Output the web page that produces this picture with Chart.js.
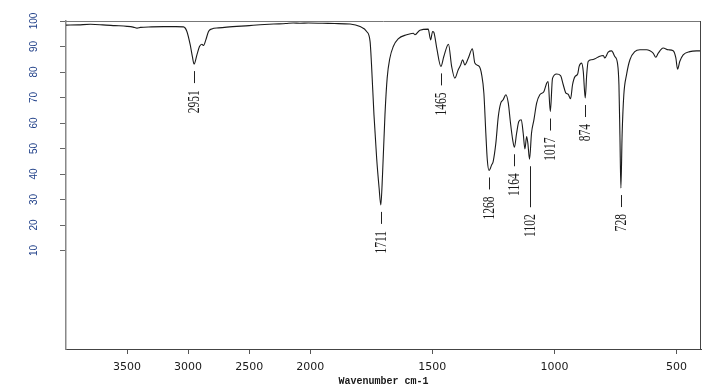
<!DOCTYPE html>
<html>
<head>
<meta charset="utf-8">
<script src="https://cdn.jsdelivr.net/npm/chart.js@4.4.1/dist/chart.umd.min.js"></script>
<style>
  html, body { margin: 0; padding: 0; background: #ffffff; }
  #c { display: block; }
</style>
</head>
<body>
<canvas id="c" width="723" height="391"></canvas>
<script>
// ---- data (wavenumber cm-1, transmittance %) ----
const wavenumbers = [
  4000, 3900, 3800, 3700, 3600, 3500, 3450, 3418, 3390, 3300, 3200, 3100, 3038, 3010, 2983, 2965,
  2951, 2928, 2907, 2887, 2874, 2855, 2833, 2806, 2750, 2683, 2500, 2411, 2300, 2200, 2139, 2084,
  2016, 1950, 1900, 1837, 1796, 1769, 1755, 1749, 1739, 1728, 1718, 1711, 1704, 1694, 1685, 1674,
  1660, 1640, 1605, 1578, 1571, 1551, 1517, 1507, 1499, 1494, 1482, 1465, 1453, 1434, 1421, 1408,
  1394, 1384, 1376, 1367, 1353, 1336, 1326, 1308, 1298, 1289, 1281, 1275, 1268, 1257, 1251, 1240,
  1230, 1220, 1210, 1199, 1189, 1180, 1171, 1164, 1155, 1146, 1136, 1128, 1121, 1114, 1109, 1102,
  1094, 1084, 1073, 1060, 1043, 1032, 1026, 1017, 1008, 991, 975, 964, 953, 944, 934, 926,
  916, 905, 899, 889, 882, 874, 868, 862, 848, 834, 817, 800, 794, 780, 766, 753,
  742, 736, 732, 728, 723, 716, 705, 691, 671, 650, 623, 609, 596, 585, 575, 555,
  534, 514, 503, 496, 487, 473, 446, 418, 400
];
const transmittance = [
  98.4, 98.5, 98.7, 98.5, 98.2, 97.9, 97.6, 97.2, 97.5, 97.7, 97.8, 97.8, 97.7, 95.9, 90.7, 86.0,
  83.1, 86.7, 90.0, 90.9, 90.4, 92.6, 95.9, 96.9, 97.3, 97.6, 98.2, 98.5, 98.8, 99.0, 99.2, 99.1,
  99.2, 99.1, 99.0, 98.8, 97.8, 95.9, 92.0, 82.8, 63.2, 46.2, 34.5, 27.9, 39.7, 63.2, 77.6, 85.4,
  90.0, 93.0, 94.6, 95.2, 94.6, 96.4, 96.8, 92.6, 95.9, 95.6, 89.4, 82.2, 86.1, 90.9, 82.2, 77.6,
  80.9, 82.8, 84.8, 82.8, 85.4, 89.1, 83.5, 82.2, 78.9, 71.7, 56.0, 45.6, 41.4, 43.6, 44.9, 52.1,
  62.5, 67.8, 69.1, 71.1, 67.8, 60.0, 53.4, 50.5, 56.0, 60.6, 61.3, 56.0, 49.8, 54.7, 52.1, 45.8,
  56.0, 61.3, 67.8, 71.1, 72.4, 75.6, 76.3, 64.5, 77.5, 79.2, 78.6, 75.0, 71.7, 71.3, 69.5, 75.0,
  78.2, 79.2, 82.2, 83.5, 80.2, 69.8, 78.9, 84.1, 84.8, 85.2, 86.1, 86.5, 85.5, 87.8, 88.3, 86.1,
  83.5, 75.0, 55.4, 34.5, 55.4, 71.1, 78.9, 84.8, 88.0, 88.7, 88.7, 88.3, 87.4, 85.8, 87.4, 89.4,
  88.7, 88.3, 85.5, 81.1, 84.1, 86.7, 88.0, 88.3, 88.3
];
const xTickLabels = [3500, 3000, 2500, 2000, 1500, 1000, 500];
const yTickLabels = [10, 20, 30, 40, 50, 60, 70, 80, 90, 100];
const peakLabels = [2951, 1711, 1465, 1268, 1164, 1102, 1017, 874, 728];
const axisTitle = 'Wavenumber cm-1';

// axis is compressed by 2 above 2000 cm-1 (usual IR layout)
const BREAK = 2000;
function toAxis(w) { return w > BREAK ? BREAK + (w - BREAK) / 2 : w; }
function fromAxis(u) { return u > BREAK ? BREAK + (u - BREAK) * 2 : u; }

const points = wavenumbers.map((w, i) => ({ x: toAxis(w), y: transmittance[i] }));

function vText(ctx, text, x, y, font, color, sx, align) {
  ctx.save();
  ctx.translate(x, y);
  ctx.rotate(-Math.PI / 2);
  ctx.scale(sx, 1);
  ctx.font = font;
  ctx.fillStyle = color;
  ctx.textAlign = align;
  ctx.textBaseline = 'middle';
  ctx.fillText(text, 0, 0);
  ctx.restore();
}

const decor = {
  id: 'decor',
  afterDraw(chart) {
    const ctx = chart.ctx;
    const xs = chart.scales.x, ys = chart.scales.y;
    const a = chart.chartArea;
    ctx.save();
    // frame: top and right
    ctx.lineWidth = 1;
    ctx.strokeStyle = '#777';
    ctx.beginPath(); ctx.moveTo(a.left, a.top + 0.5); ctx.lineTo(a.right, a.top + 0.5); ctx.stroke();
    ctx.strokeStyle = '#444';
    ctx.beginPath(); ctx.moveTo(a.right - 0.5, a.top); ctx.lineTo(a.right - 0.5, a.bottom); ctx.stroke();

    // y tick labels (rotated)
    yTickLabels.forEach(v => {
      vText(ctx, String(v), 34.5, ys.getPixelForValue(v), '10px "Liberation Sans"', '#1f3f88', 1, 'center');
    });
    // x tick labels
    ctx.font = '11px "DejaVu Sans"';
    ctx.fillStyle = '#1a1a1a';
    ctx.textAlign = 'center';
    ctx.textBaseline = 'middle';
    xTickLabels.forEach(w => {
      ctx.fillText(String(w), xs.getPixelForValue(toAxis(w)), 367);
    });
    // axis title
    ctx.font = 'bold 10px "Liberation Mono"';
    ctx.fillText(axisTitle, (a.left + a.right) / 2, 381.5);

    // peak annotations
    const longLeader = { 1102: 29 };
    peakLabels.forEach(w => {
      const i = wavenumbers.indexOf(w);
      const px = Math.round(xs.getPixelForValue(toAxis(w))) + 0.5;
      const py = ys.getPixelForValue(transmittance[i]);
      const extra = longLeader[w] || 0;
      ctx.strokeStyle = '#222';
      ctx.lineWidth = 1;
      ctx.beginPath();
      ctx.moveTo(px, py + 7);
      ctx.lineTo(px, py + 19 + extra);
      ctx.stroke();
      vText(ctx, String(w), px, py + 26 + extra, '17px "Liberation Serif"', '#1a1a1a', 0.68, 'right');
    });
    ctx.restore();
  }
};

new Chart(document.getElementById('c'), {
  type: 'line',
  data: {
    datasets: [{
      data: points,
      borderColor: '#1a1a1a',
      borderWidth: 1.1,
      pointRadius: 0,
      fill: false,
      cubicInterpolationMode: 'monotone'
    }]
  },
  options: {
    responsive: false,
    animation: false,
    devicePixelRatio: 1,
    layout: { padding: { top: 21, right: 22, left: 0, bottom: 0 } },
    plugins: { legend: { display: false }, tooltip: { enabled: false } },
    scales: {
      x: {
        type: 'linear',
        reverse: true,
        min: toAxis(400),
        max: toAxis(4000),
        afterBuildTicks(s) { s.ticks = xTickLabels.map(w => ({ value: toAxis(w) })); },
        afterFit(s) { s.height = 42; },
        ticks: { display: false },
        grid: { drawOnChartArea: false, drawTicks: true, tickLength: 5, color: '#555', lineWidth: 1 },
        border: { display: true, color: '#444', width: 1 }
      },
      y: {
        type: 'linear',
        min: -28.6,
        max: 100,
        afterBuildTicks(s) { s.ticks = yTickLabels.map(v => ({ value: v })); },
        afterFit(s) { s.width = 66; },
        ticks: { display: false },
        grid: { drawOnChartArea: false, drawTicks: true, tickLength: 6, color: '#666', lineWidth: 1 },
        border: { display: true, color: '#888', width: 1.5 }
      }
    }
  },
  plugins: [decor]
});
</script>
</body>
</html>
